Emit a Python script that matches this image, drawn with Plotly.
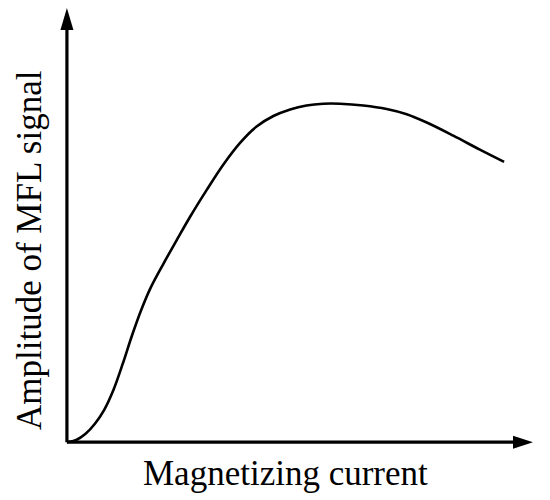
import plotly.graph_objects as go

# curve (arbitrary units, axes run 0..10)
current = [0, 0.2, 0.4, 0.6, 0.8, 1.0, 1.2, 1.4, 1.6, 1.8, 2.07, 2.35,
           2.64, 3.00, 3.35, 3.71, 4.07, 4.43, 4.79, 5.14, 5.50, 5.86,
           6.36, 6.86, 7.29, 7.72, 8.29, 8.86, 9.38]
amplitude = [0, 0.05, 0.19, 0.42, 0.74, 1.20, 1.80, 2.45, 3.04, 3.54, 4.08, 4.61,
             5.15, 5.77, 6.34, 6.84, 7.22, 7.46, 7.61, 7.70, 7.74, 7.74,
             7.70, 7.62, 7.50, 7.31, 7.01, 6.69, 6.41]

x_title = 'Magnetizing current'
y_title = 'Amplitude of MFL signal'

x_max = 10
y_max = 9.93
x_pad = 0.17
y_pad = 0.18

fig = go.Figure()

fig.add_trace(go.Scatter(
    x=current,
    y=amplitude,
    mode='lines',
    line=dict(color='black', width=2.6, shape='spline', smoothing=1.0),
    showlegend=False,
    hoverinfo='skip'
))

font = dict(family='Liberation Serif', size=35, color='black')

# axes with arrow heads
axis_line = dict(color='black', width=3.2)
fig.add_shape(type='line', xref='x', yref='y', x0=0, y0=0, x1=x_max - 0.3, y1=0,
              line=axis_line)
fig.add_shape(type='line', xref='x', yref='y', x0=0, y0=0, x1=0, y1=y_max - 0.3,
              line=axis_line)
fig.add_shape(type='path', xref='x', yref='y', xsizemode='pixel', ysizemode='pixel',
              xanchor=x_max, yanchor=0, path='M0,0 L-20,6.5 L-20,-6.5 Z',
              fillcolor='black', line=dict(width=0))
fig.add_shape(type='path', xref='x', yref='y', xsizemode='pixel', ysizemode='pixel',
              xanchor=0, yanchor=y_max, path='M0,0 L-6.5,-22 L6.5,-22 Z',
              fillcolor='black', line=dict(width=0))

# axis titles
fig.add_annotation(x=0.478, y=0, xref='paper', yref='paper', xanchor='center',
                   yanchor='top', yshift=-2, text=x_title, showarrow=False, font=font)
fig.add_annotation(x=0, y=0.4525, xref='paper', yref='paper', xanchor='center',
                   yanchor='middle', xshift=-29, text=y_title, textangle=-90,
                   showarrow=False, font=font)

fig.update_layout(
    width=550,
    height=500,
    margin=dict(l=51, r=25, t=0, b=58),
    plot_bgcolor='white',
    paper_bgcolor='white',
    xaxis=dict(range=[-x_pad, x_max], visible=False, fixedrange=True),
    yaxis=dict(range=[-y_pad, y_max], visible=False, fixedrange=True),
)

fig.write_html('out.html')
